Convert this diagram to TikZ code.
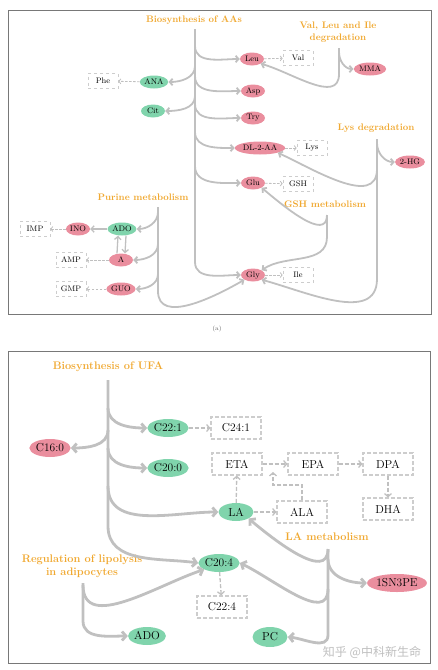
\documentclass[tikz,border=0pt]{standalone}
\usepackage{fontspec}
\newfontfamily\cjkfont{Noto Sans CJK SC}
\usetikzlibrary{shapes.geometric, arrows.meta}
\definecolor{pinkN}{RGB}{234,142,158}
\definecolor{greenN}{RGB}{128,212,172}
\definecolor{orangeT}{RGB}{240,168,48}
\definecolor{lineG}{RGB}{192,192,192}
\definecolor{boxG}{RGB}{205,205,205}
\definecolor{frameG}{RGB}{120,120,120}
\begin{document}
\begin{tikzpicture}
[x=1pt, y=-1pt, font=\small]
\tikzstyle{upreg}=[ellipse, fill=pinkN, inner sep=0.5pt, minimum width=24pt, minimum height=13pt, font=\fontsize{8}{8}\selectfont]
\tikzstyle{downreg}=[upreg, fill=greenN]
\tikzstyle{detect}=[draw=boxG, dashed, line width=0.7pt, minimum width=30pt, minimum height=15pt, inner sep=1pt, font=\fontsize{8}{8}\selectfont]
\tikzstyle{title}=[text=orangeT, align=center, inner sep=1pt, font=\fontsize{9.5}{11.5}\selectfont\bfseries]
\tikzstyle{flow}=[lineG, line width=1.8pt, -{Straight Barb[length=3pt, width=6.5pt]}]
\tikzstyle{dflow}=[lineG, line width=0.8pt, dash pattern=on 2.5pt off 1.5pt, -{Straight Barb[length=2pt, width=5pt]}]
% panel b looks
\tikzstyle{upregB}=[upreg, minimum width=35pt, minimum height=18pt, font=\fontsize{11.5}{12}\selectfont]
\tikzstyle{downregB}=[upregB, fill=greenN]
\tikzstyle{detectB}=[detect, line width=1.2pt, dash pattern=on 4pt off 2pt, minimum width=50pt, minimum height=22pt, font=\fontsize{11.5}{12}\selectfont]
\tikzstyle{titleB}=[title, font=\fontsize{11}{13}\selectfont\bfseries]
\tikzstyle{flowB}=[flow, line width=2.8pt, -{Straight Barb[length=4pt, width=9pt]}]
\tikzstyle{dflowB}=[dflow, line width=1.3pt, dash pattern=on 4pt off 2pt, -{Straight Barb[length=3pt, width=7pt]}]

\useasboundingbox (0,0) rectangle (438,670);
\draw[frameG, line width=0.8pt] (8,10) rectangle (431,314);
\draw[frameG, line width=0.8pt] (8,351) rectangle (430,663);
\node[font=\fontsize{6}{6}\selectfont, text=black!60]	(lblA)	at (217,329)	{(a)};

%%% panel a
\node[title]	(AAs)	at (194,20)	{Biosynthesis of AAs};
\node[title]	(VLI)	at (338,32)	{Val, Leu and Ile\\degradation};
\node[title]	(LysDeg)	at (376,128)	{Lys degradation};
\node[title]	(GSHmet)	at (325,204)	{GSH metabolism};
\node[title]	(Purine)	at (143,197)	{Purine metabolism};

\node[downreg]	(ANA)	at (154,82)	{ANA};
\node[downreg]	(Cit)	at (153,111)	{Cit};
\node[detect]	(Phe)	at (103,81)	{Phe};
\node[upreg]	(Leu)	at (252,59)	{Leu};
\node[detect]	(Val)	at (298,58)	{Val};
\node[upreg]	(MMA)	at (370,69)	{MMA};
\node[upreg]	(Asp)	at (253,91)	{Asp};
\node[upreg]	(Try)	at (253,118)	{Try};
\node[upreg]	(DL2AA)	at (260,148)	{DL-2-AA};
\node[detect]	(Lys)	at (312,148)	{Lys};
\node[upreg]	(HG2)	at (410,162)	{2-HG};
\node[upreg]	(Glu)	at (253,183)	{Glu};
\node[detect]	(GSH)	at (298,184)	{GSH};
\node[upreg]	(Gly)	at (253,275)	{Gly};
\node[detect]	(Ile)	at (298,275)	{Ile};

\node[downreg]	(ADO)	at (122,229)	{ADO};
\node[upreg]	(INO)	at (78,229)	{INO};
\node[detect]	(IMP)	at (35,229)	{IMP};
\node[upreg]	(A)	at (121,260)	{A};
\node[detect]	(AMP)	at (71,260)	{AMP};
\node[upreg]	(GUO)	at (121,289)	{GUO};
\node[detect]	(GMP)	at (71,289)	{GMP};

\coordinate	(AAtop)	at (195,29);
\coordinate	(VLItop)	at (339,48);
\coordinate	(Lystop)	at (377,139);
\coordinate	(GSHtop)	at (327,215);
\coordinate	(Purtop)	at (158,207);

\draw[flow] (AAtop) -- (195,262) to[out=-90,in=180] (Gly.west);
\foreach \n/\d in {Leu/17, Asp/47, Try/75, DL2AA/103, Glu/137}
	\draw[flow] ([yshift=-\d pt]AAtop) to[out=-90,in=180] (\n.west);
\foreach \n/\d in {ANA/37, Cit/67}
	\draw[flow] ([yshift=-\d pt]AAtop) to[out=-90,in=0] (\n.east);

\draw[flow] (VLItop) -- ([yshift=-26pt]VLItop) to[out=-90,in=-15] (Leu.south east);
\draw[flow] ([yshift=-4pt]VLItop) to[out=-90,in=180] (MMA.west);

\draw[flow] (Lystop) -- ([yshift=-140pt]Lystop) to[out=-90,in=-15] (Gly.south east);
\draw[flow] ([yshift=-30pt]Lystop) to[out=-90,in=-25] (DL2AA.south east);
\draw[flow] ([yshift=-4pt]Lystop) to[out=-90,in=180] (HG2.west);

\draw[flow] (GSHtop) -- ([yshift=-22pt]GSHtop) to[out=-90,in=35] (Gly.north east);
\draw[flow] (GSHtop) to[out=-90,in=-40] (Glu.south east);

\draw[flow] (Purtop) -- ([yshift=-84pt]Purtop) to[out=-90,in=-150] (Gly.south west);
\foreach \n/\d in {ADO/5, A/37, GUO/67}
	\draw[flow] ([yshift=-\d pt]Purtop) to[out=-90,in=0] (\n.east);

\draw[flow, line width=1.3pt] (ADO) -- (INO);
\draw[flow, line width=1.3pt] ([xshift=-4pt]A.north) -- ([xshift=-4pt]ADO.south);
\draw[flow, line width=1.3pt] ([xshift=4pt]ADO.south) -- ([xshift=4pt]A.north);

\draw[dflow] (ANA) -- (Phe);
\draw[dflow] (Leu) -- (Val);
\draw[dflow] (DL2AA) -- (Lys);
\draw[dflow] (Glu) -- (GSH);
\draw[dflow] (Gly) -- (Ile);
\draw[dflow] (INO) -- (IMP);
\draw[dflow] (A) -- (AMP);
\draw[dflow] (GUO) -- (GMP);

%%% panel b
\node[titleB]	(UFA)	at (108,367)	{Biosynthesis of UFA};
\node[titleB]	(LAmet)	at (327,537)	{LA metabolism};
\node[titleB]	(Lipo)	at (82,566)	{Regulation of lipolysis\\in adipocytes};

\node[downregB]	(C221)	at (168,428)	{C22:1};
\node[detectB]	(C241)	at (236,428)	{C24:1};
\node[upregB]	(C160)	at (50,448)	{C16:0};
\node[downregB]	(C200)	at (168,468)	{C20:0};
\node[detectB]	(ETA)	at (237,464)	{ETA};
\node[detectB]	(EPA)	at (313,464)	{EPA};
\node[detectB]	(DPA)	at (388,464)	{DPA};
\node[detectB]	(DHA)	at (388,509)	{DHA};
\node[downregB]	(LA)	at (236,512)	{LA};
\node[detectB]	(ALA)	at (302,512)	{ALA};
\node[downregB]	(C204)	at (219,563)	{C20:4};
\node[detectB]	(C224)	at (222,607)	{C22:4};
\node[upregB, minimum width=56pt]	(SN3PE)	at (397,583)	{1SN3PE};
\node[downregB, minimum height=20pt]	(PC)	at (270,637)	{PC};
\node[downregB]	(ADOb)	at (147,636)	{ADO};

\coordinate	(UFAtop)	at (108,380);
\coordinate	(Lipotop)	at (83,583);
\coordinate	(LAtop)	at (328,549);
\coordinate	(ALAbend)	at (273,485);
\coordinate	(ALAmerge)	at (273,472);

\draw[flowB] (UFAtop) -- (108,526) to[out=-90,in=172] (C204.west);
\foreach \n/\d in {C221/28, C200/68, LA/106}
	\draw[flowB] ([yshift=-\d pt]UFAtop) to[out=-90,in=180] (\n.west);
\draw[flowB] ([yshift=-50pt]UFAtop) to[out=-90,in=0] (C160.east);

\draw[flowB] (Lipotop) -- ([yshift=-38pt]Lipotop) to[out=-90,in=180] (ADOb.west);
\draw[flowB] ([yshift=-2pt]Lipotop) to[out=-90,in=-162] (C204.south west);

\draw[flowB] (LAtop) -- ([yshift=-86pt]LAtop) to[out=-90,in=-5] (PC.east);
\draw[flowB] (LAtop) to[out=-90,in=-40] (LA.south east);
\draw[flowB] ([yshift=-40pt]LAtop) to[out=-90,in=-25] (C204.east);
\draw[flowB] ([yshift=-10pt]LAtop) to[out=-90,in=180] (SN3PE.west);

\draw[dflowB] (C221) -- (C241);
\draw[dflowB] (LA) -- (ALA);
\draw[dflowB] (LA) -- (ETA);
\draw[dflowB] (ETA) -- (EPA);
\draw[dflowB] (EPA) -- (DPA);
\draw[dflowB] (DPA) -- (DHA);
\draw[dflowB] (C204) -- (C224);
\draw[dflowB] (ALA.north) |- (ALAbend) -- (ALAmerge);

\node[text=black!25, font=\cjkfont\fontsize{12}{12}\selectfont]	(mark)	at (372,652)	{知乎 @中科新生命};
\end{tikzpicture}
\end{document}
